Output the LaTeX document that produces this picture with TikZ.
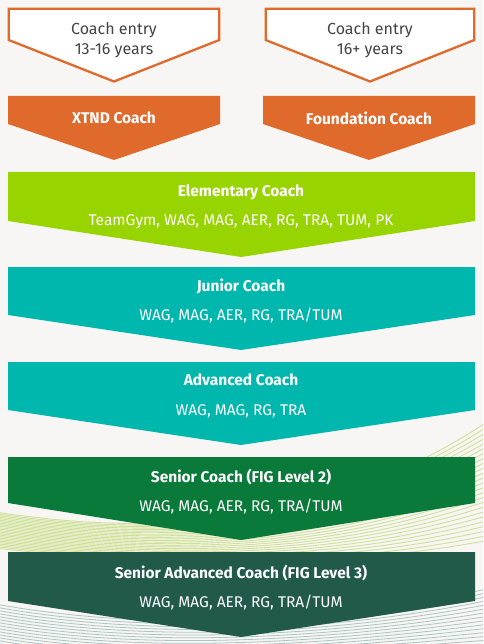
\documentclass[tikz,border=0pt]{standalone}
\usepackage{fontspec}
\setmainfont{Fira Sans}
\definecolor{bg}{HTML}{F7F6F4}
\definecolor{orng}{HTML}{E06A2C}
\definecolor{lime}{HTML}{97D400}
\definecolor{teal}{HTML}{00B7AE}
\definecolor{sgreen}{HTML}{0A7A3B}
\definecolor{dgreen}{HTML}{215A48}
\definecolor{wave}{HTML}{CFE196}
\definecolor{wave2}{HTML}{A9C4C1}
\definecolor{txtgray}{HTML}{444444}
\tikzset{
  ttl/.style={text=white,font=\bfseries\fontsize{15.5}{18}\selectfont,inner sep=0pt},
  sub/.style={text=white,font=\fontsize{15.5}{18}\selectfont,inner sep=0pt},
  entry/.style={text=txtgray,font=\fontsize{16}{18}\selectfont,inner sep=0pt,align=center},
}
\begin{document}
\begin{tikzpicture}[x=1pt,y=-1pt]
\useasboundingbox (0,0) rectangle (483,644);
\fill[bg] (0,0) rectangle (483,644);
% background waves
\begin{scope}
\clip (0,0) rectangle (483,644);
\foreach \i in {0,...,24}{
  \draw[wave,line width=0.9pt] (-5,{512+1.5*\i}) .. controls (180,{540+1.2*\i}) and (340,{520+2*\i}) .. (490,{420+5*\i});
}
\foreach \i in {0,...,14}{
  \draw[wave2,line width=0.8pt] (-5,{604+3*\i}) .. controls (150,{632+3*\i}) and (340,{625+2*\i}) .. (490,{588+4*\i});
}
\end{scope}
% entry chevrons
\draw[orng,line width=2.3pt,fill=white,line join=miter] (8.7,8.7) -- (219.3,8.7) -- (219.3,40) -- (114,81.5) -- (8.7,40) -- cycle;
\draw[orng,line width=2.3pt,fill=white,line join=miter] (265.7,8.7) -- (474.3,8.7) -- (474.3,40) -- (370,81.5) -- (265.7,40) -- cycle;
\node[entry] (e1) at (114,40) {Coach entry\\[2pt]13-16 years};
\node[entry] (e2) at (370,40) {Coach entry\\[2pt]16+ years};
% orange chevrons
\fill[orng] (8,96) -- (220,96) -- (220,124) -- (114,160) -- (8,124) -- cycle;
\fill[orng] (263,96) -- (475,96) -- (475,124) -- (369,160) -- (263,124) -- cycle;
\node[ttl] (xtnd) at (114,118) {XTND Coach};
\node[ttl] (fnd) at (369,118) {Foundation Coach};
% elementary
\fill[lime] (8,172) -- (475,172) -- (475,221) -- (241,257) -- (8,221) -- cycle;
\node[ttl] (elt) at (241,192) {Elementary Coach};
\node[sub] (els) at (241,222) {TeamGym, WAG, MAG, AER, RG, TRA, TUM, PK};
% junior
\fill[teal] (8,267) -- (475,267) -- (475,315) -- (241,350) -- (8,315) -- cycle;
\node[ttl] (jut) at (241,287) {Junior Coach};
\node[sub] (jus) at (241,316) {WAG, MAG, AER, RG, TRA/TUM};
% advanced
\fill[teal] (8,362) -- (475,362) -- (475,410) -- (241,445) -- (8,410) -- cycle;
\node[ttl] (adt) at (241,380) {Advanced Coach};
\node[sub] (ads) at (241,411) {WAG, MAG, RG, TRA};
% senior
\fill[sgreen] (8,457) -- (475,457) -- (475,503) -- (241,540) -- (8,503) -- cycle;
\node[ttl] (set) at (241,477) {Senior Coach (FIG Level 2)};
\node[sub] (ses) at (241,507) {WAG, MAG, AER, RG, TRA/TUM};
% senior advanced
\fill[dgreen] (8,552) -- (475,552) -- (475,601) -- (241,637) -- (8,601) -- cycle;
\node[ttl] (sat) at (241,573) {Senior Advanced Coach (FIG Level 3)};
\node[sub] (sas) at (241,603) {WAG, MAG, AER, RG, TRA/TUM};
\end{tikzpicture}
\end{document}
